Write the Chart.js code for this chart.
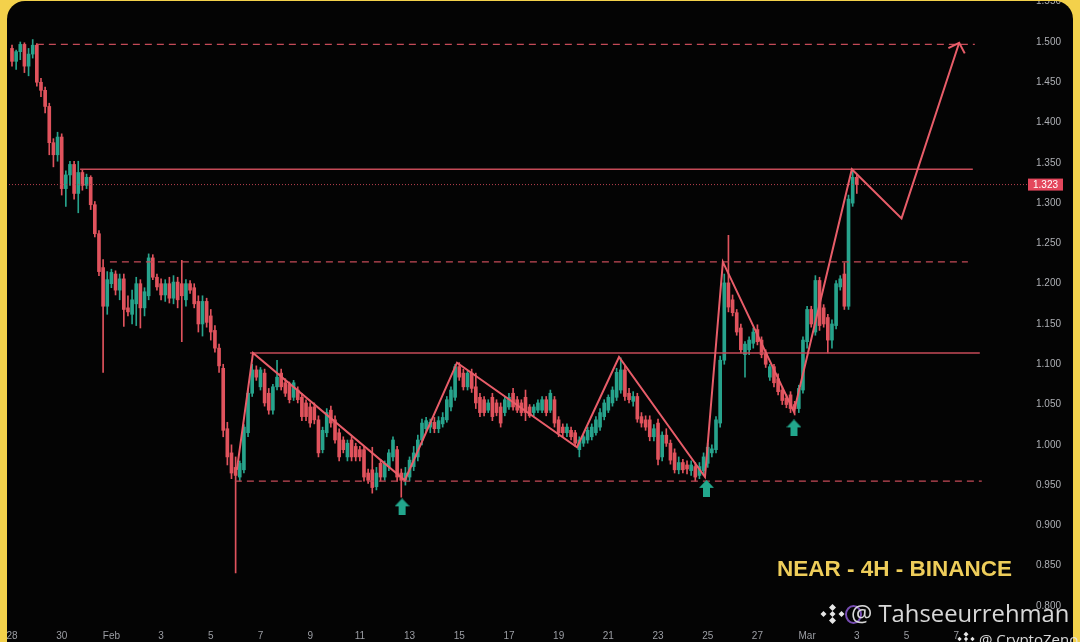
<!DOCTYPE html>
<html>
<head>
<meta charset="utf-8">
<script src="https://cdn.jsdelivr.net/npm/chart.js@4.4.1/dist/chart.umd.min.js"></script>
<style>
  html, body { margin:0; padding:0; width:1080px; height:642px; overflow:hidden; background:#f3d14b; position:relative; }
  #c { position:absolute; left:0; top:0; }
  #frame { position:absolute; left:7px; top:1px; width:1066px; height:720px; border-radius:18px; box-shadow:0 0 0 90px #f3d14b; pointer-events:none; }
  .title { position:absolute; left:777px; top:558px; font:bold 22.5px "Liberation Sans", Arial, sans-serif; line-height:22.5px; color:#eecd5a; white-space:nowrap; }
  .wm { position:absolute; font-family:"Open Sans", "Noto Sans", sans-serif; font-weight:400; line-height:1; color:rgba(232,232,232,0.93); white-space:nowrap; }
  .ring { position:absolute; border:2px solid rgba(140,90,210,0.85); border-radius:50%; }
  svg.bnb { position:absolute; }
</style>
</head>
<body>
<canvas id="c" width="1080" height="642"></canvas>
<div id="frame"></div>
<div class="title">NEAR - 4H - BINANCE</div>
<svg class="bnb" style="left:820px;top:603px" width="25" height="22" viewBox="0 0 25 22" fill="#e6e6e6">
  <polygon points="12.5,1 16,4.5 12.5,8 9,4.5"/>
  <polygon points="12.5,14 16,17.5 12.5,21 9,17.5"/>
  <polygon points="3.5,8 6.5,11 3.5,14 0.5,11"/>
  <polygon points="21.5,8 24.5,11 21.5,14 18.5,11"/>
  <polygon points="12.5,8 15.5,11 12.5,14 9.5,11"/>
</svg>
<div class="ring" style="left:845px;top:605px;width:13px;height:15px"></div>
<div class="wm" style="left:851px;top:602px;font-size:23.8px">@ Tahseeurrehman</div>
<svg class="bnb" style="left:957px;top:631px" width="18" height="16" viewBox="0 0 25 22" fill="#e6e6e6">
  <polygon points="12.5,1 16,4.5 12.5,8 9,4.5"/>
  <polygon points="12.5,14 16,17.5 12.5,21 9,17.5"/>
  <polygon points="3.5,8 6.5,11 3.5,14 0.5,11"/>
  <polygon points="21.5,8 24.5,11 21.5,14 18.5,11"/>
  <polygon points="12.5,8 15.5,11 12.5,14 9.5,11"/>
</svg>
<div class="wm" style="left:979px;top:632px;font-size:15px">@ CryptoZeno</div>

<script>
// ---------- DATA (4H candles, NEAR/USDT) ----------
const opens = [
1.492,1.476,1.488,1.497,1.470,1.485,1.496,1.450,1.440,1.420,
1.375,1.360,1.382,1.318,1.335,1.348,1.312,1.338,1.322,1.332,
1.298,1.262,1.220,1.172,1.200,1.212,1.192,1.206,1.170,1.162,
1.175,1.200,1.170,1.185,1.232,1.208,1.200,1.186,1.200,1.182,
1.202,1.200,1.180,1.200,1.195,1.178,1.150,1.178,1.160,1.142,
1.120,1.095,1.020,0.990,0.972,0.960,0.969,1.015,1.064,1.093,
1.072,1.089,1.064,1.043,1.072,1.089,1.077,1.075,1.059,1.068,
1.059,1.052,1.047,1.047,1.031,0.994,1.015,1.043,1.031,1.015,
1.006,0.985,1.006,0.998,0.994,0.994,0.965,0.969,0.948,0.977,
0.960,0.973,0.985,0.994,0.965,0.956,0.960,0.973,0.985,1.006,
1.020,1.022,1.028,1.020,1.026,1.031,1.047,1.059,1.097,1.089,
1.072,1.089,1.072,1.059,1.056,1.043,1.059,1.052,1.047,1.040,
1.047,1.064,1.056,1.052,1.059,1.047,1.040,1.043,1.043,1.056,
1.043,1.056,1.031,1.022,1.015,1.018,1.015,0.994,1.002,1.006,
1.010,1.015,1.022,1.035,1.043,1.052,1.059,1.068,1.093,1.064,
1.054,1.060,1.035,1.031,1.031,1.010,1.027,0.985,1.012,1.002,
0.990,0.969,0.978,0.975,0.968,0.973,0.962,0.968,0.977,0.990,
0.994,1.027,1.105,1.201,1.180,1.164,1.145,1.112,1.118,1.126,
1.143,1.130,1.114,1.084,1.097,1.082,1.068,1.058,1.062,1.050,
1.045,1.068,1.128,1.168,1.140,1.204,1.170,1.158,1.130,1.148,
1.196,1.212,1.172,1.300,1.332];
const highs = [
1.496,1.490,1.500,1.499,1.492,1.503,1.498,1.455,1.444,1.424,
1.380,1.388,1.386,1.340,1.352,1.352,1.352,1.342,1.336,1.334,
1.302,1.266,1.230,1.215,1.218,1.216,1.212,1.212,1.185,1.192,
1.208,1.205,1.195,1.237,1.236,1.212,1.206,1.205,1.208,1.210,
1.208,1.229,1.205,1.204,1.200,1.185,1.185,1.182,1.168,1.148,
1.125,1.100,1.028,1.000,0.985,0.980,1.025,1.068,1.100,1.098,
1.096,1.094,1.070,1.075,1.105,1.094,1.082,1.078,1.080,1.072,
1.064,1.056,1.052,1.052,1.036,1.022,1.045,1.048,1.036,1.020,
1.010,1.006,1.010,1.002,0.998,0.998,0.970,0.997,0.972,0.982,
0.980,0.994,1.010,0.998,0.970,0.972,0.985,0.998,1.012,1.032,
1.034,1.032,1.034,1.035,1.040,1.060,1.072,1.100,1.102,1.094,
1.092,1.094,1.089,1.064,1.060,1.056,1.064,1.056,1.052,1.060,
1.064,1.070,1.060,1.056,1.068,1.050,1.050,1.056,1.060,1.060,
1.068,1.060,1.035,1.026,1.026,1.022,1.018,1.010,1.012,1.022,
1.026,1.035,1.045,1.056,1.062,1.072,1.095,1.108,1.098,1.070,
1.066,1.064,1.040,1.036,1.036,1.025,1.032,1.016,1.020,1.006,
0.995,0.985,0.982,0.980,0.980,0.978,0.978,0.990,1.002,1.000,
1.035,1.110,1.212,1.260,1.186,1.168,1.150,1.128,1.134,1.145,
1.149,1.134,1.118,1.100,1.100,1.088,1.072,1.062,1.066,1.054,
1.074,1.134,1.172,1.172,1.210,1.208,1.174,1.162,1.155,1.204,
1.210,1.226,1.310,1.341,1.336];
const lows = [
1.470,1.466,1.478,1.462,1.458,1.480,1.445,1.432,1.412,1.360,
1.345,1.352,1.310,1.296,1.322,1.305,1.288,1.316,1.318,1.292,
1.258,1.210,1.090,1.162,1.195,1.186,1.180,1.147,1.160,1.150,
1.148,1.145,1.160,1.180,1.205,1.192,1.180,1.178,1.176,1.175,
1.170,1.128,1.172,1.188,1.170,1.140,1.135,1.146,1.130,1.115,
1.090,1.010,0.975,0.958,0.841,0.955,0.965,1.010,1.060,1.080,
1.068,1.048,1.038,1.038,1.068,1.068,1.060,1.052,1.055,1.052,
1.030,1.030,1.022,1.026,0.985,0.990,1.010,1.022,1.002,0.980,
0.990,0.980,0.980,0.980,0.980,0.955,0.952,0.940,0.944,0.955,
0.956,0.968,0.980,0.955,0.935,0.950,0.955,0.968,0.980,1.000,
1.015,1.015,1.015,1.015,1.022,1.028,1.042,1.055,1.080,1.068,
1.068,1.065,1.045,1.035,1.036,1.040,1.030,1.036,1.022,1.036,
1.044,1.043,1.040,1.036,1.030,1.034,1.036,1.040,1.040,1.036,
1.040,1.022,1.010,1.010,1.010,1.006,0.998,0.985,0.998,1.002,
1.006,1.012,1.018,1.031,1.040,1.048,1.055,1.064,1.055,1.052,
1.048,1.028,1.022,1.018,1.005,1.005,0.975,0.980,0.998,0.976,
0.965,0.964,0.965,0.964,0.962,0.955,0.958,0.962,0.972,0.985,
0.990,1.022,1.100,1.165,1.160,1.136,1.114,1.084,1.112,1.120,
1.124,1.108,1.096,1.080,1.072,1.062,1.050,1.046,1.040,1.037,
1.040,1.064,1.120,1.146,1.136,1.142,1.146,1.114,1.120,1.144,
1.192,1.168,1.168,1.296,1.312];
const closes = [
1.476,1.488,1.497,1.470,1.485,1.496,1.450,1.440,1.420,1.375,
1.360,1.382,1.318,1.335,1.348,1.312,1.338,1.322,1.332,1.298,
1.262,1.215,1.172,1.205,1.214,1.192,1.206,1.168,1.165,1.180,
1.200,1.170,1.190,1.232,1.208,1.196,1.186,1.200,1.182,1.202,
1.180,1.185,1.200,1.192,1.175,1.150,1.178,1.152,1.140,1.120,
1.098,1.018,0.985,0.965,0.962,0.977,1.022,1.064,1.093,1.084,
1.093,1.052,1.043,1.072,1.084,1.072,1.064,1.056,1.077,1.056,
1.035,1.035,1.027,1.031,0.990,1.018,1.040,1.027,1.006,0.985,
0.994,1.002,0.985,0.985,0.985,0.960,0.956,0.947,0.965,0.960,
0.977,0.990,1.006,0.960,0.956,0.965,0.981,0.990,1.006,1.027,
1.030,1.028,1.020,1.030,1.034,1.056,1.068,1.097,1.084,1.072,
1.089,1.070,1.052,1.040,1.040,1.052,1.035,1.040,1.027,1.056,
1.059,1.047,1.043,1.040,1.040,1.036,1.047,1.052,1.056,1.040,
1.064,1.027,1.015,1.015,1.022,1.010,1.002,1.006,1.010,1.018,
1.022,1.031,1.040,1.052,1.059,1.068,1.090,1.093,1.060,1.056,
1.060,1.032,1.027,1.022,1.010,1.020,0.982,1.012,1.002,0.981,
0.969,0.978,0.969,0.970,0.975,0.960,0.973,0.985,0.997,0.995,
1.031,1.105,1.201,1.171,1.164,1.140,1.118,1.125,1.130,1.140,
1.128,1.112,1.100,1.097,1.077,1.066,1.055,1.050,1.045,1.045,
1.070,1.130,1.168,1.150,1.204,1.148,1.150,1.130,1.150,1.200,
1.206,1.172,1.305,1.332,1.323];
const candleHours = 4;          // one candle = 4 hours; day 0 = 28 Jan 00:00

// horizontal levels (price, from day, to day)
const levelPrices = [1.497, 1.342, 1.227, 1.114, 0.955];
const levelFromDays = [1.00, 2.74, 3.94, 9.58, 8.97];
const levelToDays = [38.75, 38.67, 38.47, 38.95, 39.03];
const levelKinds = ['dashed', 'solid', 'dashed', 'solid', 'dashed'];

// zig-zag pattern and projection
const zigDays = [9.05, 9.70, 15.81, 17.91, 22.74, 24.43, 27.89, 28.61, 31.47, 33.80, 35.80, 38.12];
const zigPrices = [0.969, 1.114, 0.956, 1.102, 0.997, 1.109, 0.960, 1.227, 1.041, 1.342, 1.281, 1.499];

// green buy-signal arrows
const signalDays = [15.70, 27.95, 31.47];
const signalPrices = [0.923, 0.946, 1.021];

// axis ticks
const xTickDays = [0,2,4,6,8,10,12,14,16,18,20,22,24,26,28,30,32,34,36,38];
const xTickLabels = ['28','30','Feb','3','5','7','9','11','13','15','17','19','21','23','25','27','Mar','3','5','7'];
const yTickValues = [0.80,0.85,0.90,0.95,1.00,1.05,1.10,1.15,1.20,1.25,1.30,1.35,1.40,1.45,1.50,1.55];

// ---------- STYLE ----------
const RED = '#e0535d';
const GREEN = '#27a38c';
const LEVEL_COLOR = '#c44a57';
const ZIG_COLOR = '#e85d69';
const X_MIN = -0.483, X_MAX = 40.89;
const Y_MIN = 0.7801, Y_MAX = 1.5521;

const candleDays = opens.map((_, i) => i * candleHours / 24);
const lastClose = closes[closes.length - 1];
const isUp = i => closes[i] >= opens[i];

const wickData = candleDays.map((d, i) => ({ x: d, y: [lows[i], highs[i]] }));
const bodyData = candleDays.map((d, i) => ({ x: d, y: [opens[i], closes[i]] }));

function makeArrowImage() {
  const c = document.createElement('canvas');
  c.width = 15; c.height = 17;
  const g = c.getContext('2d');
  g.fillStyle = '#22a78d';
  g.beginPath();
  g.moveTo(7.5, 0); g.lineTo(15, 8); g.lineTo(11, 8); g.lineTo(11, 17);
  g.lineTo(4, 17); g.lineTo(4, 8); g.lineTo(0, 8); g.closePath();
  g.fill();
  return c;
}

const datasets = [];
datasets.push({
  type: 'bar', label: 'wicks', data: wickData, grouped: false, barThickness: 1,
  backgroundColor: ctx => isUp(ctx.dataIndex) ? GREEN : RED, borderWidth: 0, order: 20
});
datasets.push({
  type: 'bar', label: 'bodies', data: bodyData, grouped: false, barThickness: 3, minBarLength: 1,
  backgroundColor: ctx => isUp(ctx.dataIndex) ? GREEN : RED, borderWidth: 0, order: 19
});
levelPrices.forEach((p, i) => {
  datasets.push({
    type: 'line', label: 'level ' + p,
    data: [{ x: levelFromDays[i], y: p }, { x: levelToDays[i], y: p }],
    borderColor: LEVEL_COLOR, borderWidth: levelKinds[i] === 'solid' ? 1.6 : 1.3,
    borderDash: levelKinds[i] === 'solid' ? [] : [7, 5],
    pointRadius: 0, fill: false, tension: 0, order: 5
  });
});
datasets.push({
  type: 'line', label: 'price line',
  data: [{ x: X_MIN, y: lastClose }, { x: X_MAX, y: lastClose }],
  borderColor: '#b8404f', borderWidth: 1, borderDash: [1, 2],
  pointRadius: 0, fill: false, order: 6
});
const zigIndex = datasets.length;
datasets.push({
  type: 'line', label: 'pattern',
  data: zigDays.map((d, i) => ({ x: d, y: zigPrices[i] })),
  borderColor: ZIG_COLOR, borderWidth: 2, pointRadius: 0, fill: false, tension: 0,
  borderJoinStyle: 'miter', order: 2
});
datasets.push({
  type: 'scatter', label: 'signals',
  data: signalDays.map((d, i) => ({ x: d, y: signalPrices[i] })),
  pointStyle: makeArrowImage(), pointRadius: 6, order: 1
});

const bgPlugin = {
  id: 'bg',
  beforeDraw(c) {
    const g = c.ctx; g.save(); g.fillStyle = '#040404'; g.fillRect(0, 0, c.width, c.height); g.restore();
  }
};
const arrowHeadPlugin = {
  id: 'arrowHead',
  afterDatasetsDraw(c) {
    const pts = c.getDatasetMeta(zigIndex).data;
    const a = pts[pts.length - 2], b = pts[pts.length - 1];
    const ang = Math.atan2(b.y - a.y, b.x - a.x);
    const L = 12, s = 0.8;
    const g = c.ctx; g.save();
    g.strokeStyle = ZIG_COLOR; g.lineWidth = 2; g.lineJoin = 'miter';
    g.beginPath();
    g.moveTo(b.x - L * Math.cos(ang - s), b.y - L * Math.sin(ang - s));
    g.lineTo(b.x, b.y);
    g.lineTo(b.x - L * Math.cos(ang + s), b.y - L * Math.sin(ang + s));
    g.stroke(); g.restore();
  }
};
const priceTagPlugin = {
  id: 'priceTag',
  afterDraw(c) {
    const y = c.scales.y.getPixelForValue(lastClose);
    const x = c.chartArea.right;
    const g = c.ctx; g.save();
    g.fillStyle = '#e4475c'; g.fillRect(x, y - 6, 35, 12);
    g.fillStyle = '#ffffff'; g.font = '10px "Liberation Sans", Arial, sans-serif';
    g.textAlign = 'center'; g.textBaseline = 'middle';
    g.fillText(lastClose.toFixed(3), x + 17.5, y + 0.5);
    g.restore();
  }
};

new Chart(document.getElementById('c'), {
  data: { datasets },
  options: {
    responsive: false, animation: false, events: [],
    layout: { padding: { left: 0, right: 12, top: 0, bottom: 0 }, autoPadding: false },
    plugins: { legend: { display: false }, tooltip: { enabled: false } },
    scales: {
      x: {
        type: 'linear', min: X_MIN, max: X_MAX, offset: false,
        grid: { display: false, drawTicks: false }, border: { display: false },
        afterBuildTicks: s => { s.ticks = xTickDays.map(v => ({ value: v })); },
        afterFit: s => { s.height = 20; s.paddingLeft = 0; s.paddingRight = 0; },
        ticks: {
          autoSkip: false, maxRotation: 0, padding: 8, color: '#9c9ea4',
          font: { family: '"Liberation Sans", Arial, sans-serif', size: 10 },
          callback: (v, i) => xTickLabels[i]
        }
      },
      y: {
        type: 'linear', position: 'right', min: Y_MIN, max: Y_MAX,
        grid: { display: false, drawTicks: false }, border: { display: false },
        afterBuildTicks: s => { s.ticks = yTickValues.map(v => ({ value: v })); },
        afterFit: s => { s.width = 40; s.paddingTop = 0; s.paddingBottom = 0; },
        ticks: {
          padding: 8, color: '#aeb0b5',
          font: { family: '"Liberation Sans", Arial, sans-serif', size: 10 },
          callback: v => Number(v).toFixed(3)
        }
      }
    }
  },
  plugins: [bgPlugin, arrowHeadPlugin, priceTagPlugin]
});
</script>
</body>
</html>
